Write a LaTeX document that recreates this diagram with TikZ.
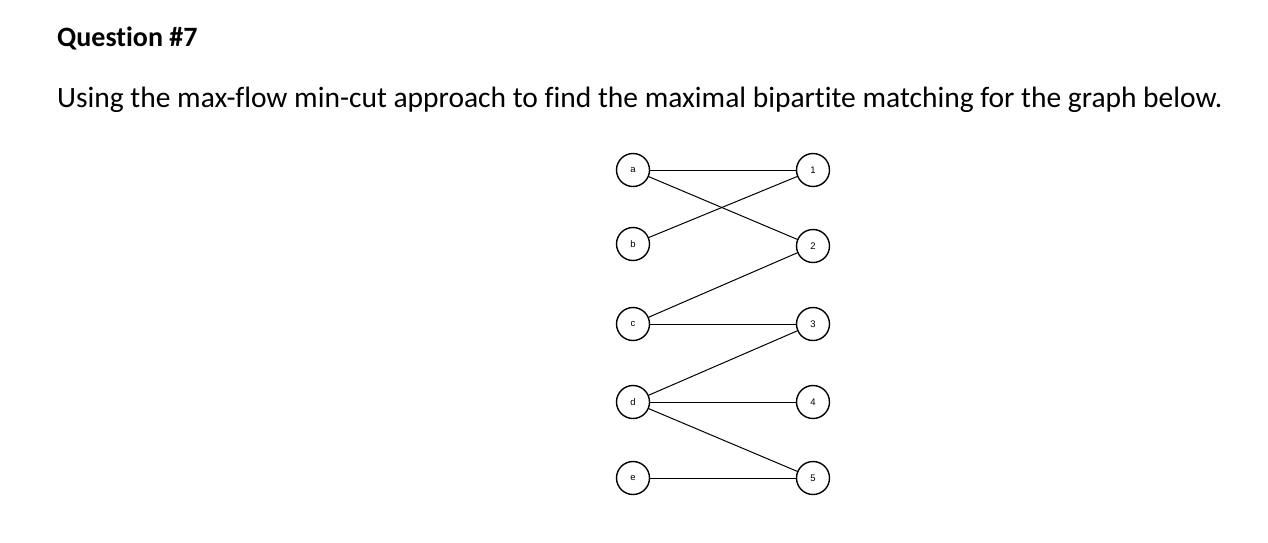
\documentclass[tikz,border=0pt]{standalone}
\usepackage{fontspec}
\setmainfont{Carlito}[Ligatures=NoCommon]
\newfontfamily\lbl{Liberation Sans}
\begin{document}
\begin{tikzpicture}[x=1pt,y=-1pt,
  vtx/.style={circle,draw,line width=1.4pt,minimum size=33pt,inner sep=0pt,font=\lbl\fontsize{9.5}{9.5}\selectfont},
  edge/.style={line width=1pt}]
\useasboundingbox (0,0) rectangle (1268,542);
\node[anchor=base west,inner sep=0pt,font=\bfseries\fontsize{28}{32}\selectfont] (q) at (57,46) {Question \#7};
\node[anchor=base west,inner sep=0pt,font=\fontsize{29.5}{34}\selectfont] (t) at (57,107) {Using the max-flow min-cut approach to find the maximal bipartite matching for the graph below.};
\foreach \n/\y in {a/170,b/244,c/324,d/402,e/478} \node[vtx] (\n) at (633,\y) {\n};
\foreach \n/\y in {1/170,2/246,3/324,4/402,5/478} \node[vtx] (r\n) at (813,\y) {\n};
\foreach \u/\v in {a/1,a/2,b/1,c/2,c/3,d/3,d/4,d/5,e/5} \draw[edge] (\u) -- (r\v);
\end{tikzpicture}
\end{document}
